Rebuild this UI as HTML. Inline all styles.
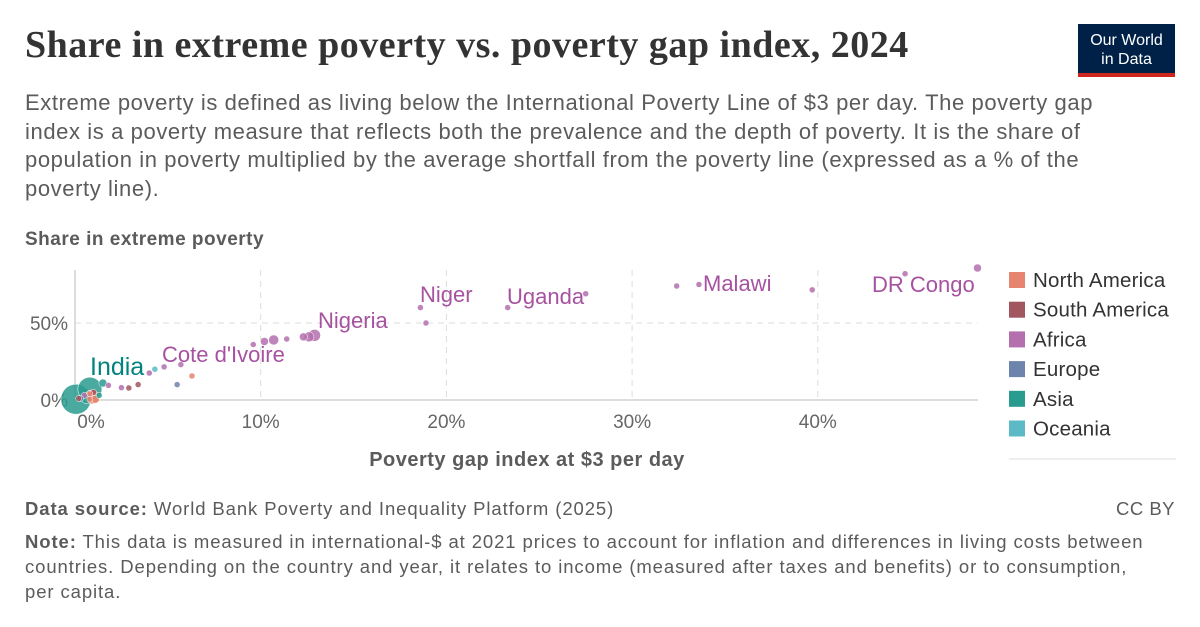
<!DOCTYPE html>
<html><head><meta charset="utf-8">
<style>
body{margin:0;background:#fff;width:1200px;height:627px;overflow:hidden;font-family:"Liberation Sans",sans-serif;position:relative}
.t{position:absolute}
h1{position:absolute;left:25px;top:23px;margin:0;font-family:"Liberation Serif",serif;font-weight:bold;font-size:38px;color:#333;letter-spacing:0.5px;white-space:nowrap}
.sub{left:25px;top:89px;width:1160px;font-size:22px;letter-spacing:0.6px;line-height:28.5px;color:#5b5b5b;white-space:nowrap}
.logo{left:1078px;top:24px;width:97px;height:53px;background:#002147;color:#fff;font-size:16px;line-height:19px;text-align:center;box-sizing:border-box;padding-top:7px;border-bottom:4px solid #ce261e}
.foot{left:25px;font-size:18.5px;letter-spacing:0.9px;color:#5b5b5b;line-height:25px;white-space:nowrap}
</style></head><body>
<h1>Share in extreme poverty vs. poverty gap index, 2024</h1>
<div class="t logo">Our World<br>in Data</div>
<div class="t sub">Extreme poverty is defined as living below the International Poverty Line of $3 per day. The poverty gap<br>index is a poverty measure that reflects both the prevalence and the depth of poverty. It is the share of<br>population in poverty multiplied by the average shortfall from the poverty line (expressed as a % of the<br>poverty line).</div>
<svg id="chart" width="1200" height="627" style="position:absolute;left:0;top:0"></svg>
<div class="t foot" style="top:496px;width:1150px;letter-spacing:0.9px"><b>Data source:</b> World Bank Poverty and Inequality Platform (2025)<span style="position:absolute;right:0;letter-spacing:0.5px">CC BY</span></div>
<div class="t foot" style="top:529px;width:1150px"><b>Note:</b> This data is measured in international-$ at 2021 prices to account for inflation and differences in living costs between<br>countries. Depending on the country and year, it relates to income (measured after taxes and benefits) or to consumption,<br>per capita.</div>
<script>
const regions=["North America","South America","Africa","Europe","Asia","Oceania"];
const regionColors=["#e6846f","#a2565f","#b46fae","#6d84ad","#2a9b8f","#5cbac7"];
const xTicks=[0,10,20,30,40];
const yTicks=[0,50];
const gapX=[48.6,44.7,39.7,33.6,32.4,27.5,23.3,18.6,18.9,12.9,12.6,12.3,11.4,10.7,10.2,9.6,5.7,4.8,4.3,6.3,5.5,4.0,3.4,2.9,2.5,1.8,1.5,1.0,0.8,0.5,0.9,0.6,0.3,0.8,1.3,0.2,1.1,0.05,0.8];
const shareY=[85.7,82,71.5,75,74,69,60,60,50,42,41,41,39.6,39,38,36,23,21.5,20,15.6,10,17.5,10,7.8,8,9.5,11,5,4,3,2,1,1,0.5,3,1,0.5,0.5,7];
const region=[2,2,2,2,2,2,2,2,2,2,2,2,2,2,2,2,2,2,5,0,3,2,1,1,2,2,4,1,0,2,0,4,3,0,4,1,0,4,4];
const size=[4,3,3,3,3,3,3,3,3,6,5,4,3,5,4,3,3,3,3,3,3,3,3,3,3,3,4,3,3,3,7,5,3,3,3,3,4,15,12];
const labels=["DR Congo","Malawi","Uganda","Niger","Nigeria","Cote d'Ivoire","India"];
const labelPos=[[872,292],[703,291],[507,304],[420,302],[318,328],[162,362],[90,375]];
const labelColor=["#a652a0","#a652a0","#a652a0","#a652a0","#a652a0","#a652a0","#00847e"];
const L=75,R=978,T=270,B=400;
const sx=v=>75+v*18.57, sy=v=>400-v*1.54;
const svg=document.getElementById('chart');const NS="http://www.w3.org/2000/svg";
function mk(t,a,txt){const e=document.createElementNS(NS,t);for(const k in a)e.setAttribute(k,a[k]);if(txt!==undefined)e.textContent=txt;svg.appendChild(e);return e;}
let e=mk('text',{x:25,y:245,'font-size':19,'font-weight':'bold',fill:'#5b5b5b','letter-spacing':0.5},'Share in extreme poverty');


xTicks.forEach(v=>{if(v>0){const g=mk('line',{x1:sx(v),x2:sx(v),y1:T,y2:B,stroke:'#ddd','stroke-dasharray':'6,5'});}
const t=mk('text',{x:v===0?sx(v)+16:sx(v),y:428,'font-size':19,fill:'#666','text-anchor':'middle'},v+'%');});
yTicks.forEach(v=>{if(v>0){const g=mk('line',{x1:L,x2:R,y1:sy(v),y2:sy(v),stroke:'#ddd','stroke-dasharray':'6,5'});}
const t=mk('text',{x:68,y:sy(v)+7,'font-size':19,fill:'#666','text-anchor':'end'},v+'%');});
e=mk('line',{x1:L,x2:L,y1:T,y2:B,stroke:'#bbb'});
e=mk('line',{x1:L,x2:R,y1:B,y2:B,stroke:'#bbb'});
const order=gapX.map((_,i)=>i).sort((a,b)=>size[b]-size[a]);
order.forEach(i=>{const c=mk('circle',{cx:sx(gapX[i]),cy:sy(shareY[i]),r:size[i],fill:regionColors[region[i]],'fill-opacity':0.85,stroke:'#fff','stroke-width':0.5});

});
labels.forEach((l,i)=>{const t=mk('text',{x:labelPos[i][0],y:labelPos[i][1],'font-size':i===6?25:22,fill:labelColor[i]},l);

});
e=mk('text',{x:527,y:466,'font-size':20,'font-weight':'bold',fill:'#5b5b5b','text-anchor':'middle','letter-spacing':0.5},'Poverty gap index at $3 per day');

regions.forEach((r,i)=>{const y=272+i*29.7;
const s=mk('rect',{x:1009,y:y,width:16,height:16,fill:regionColors[i]});
const t=mk('text',{x:1033,y:y+15,'font-size':20.5,fill:'#333','letter-spacing':0.2},r);});
e=mk('line',{x1:1009,x2:1176,y1:459,y2:459,stroke:'#ddd'});
</script>
</body></html>
